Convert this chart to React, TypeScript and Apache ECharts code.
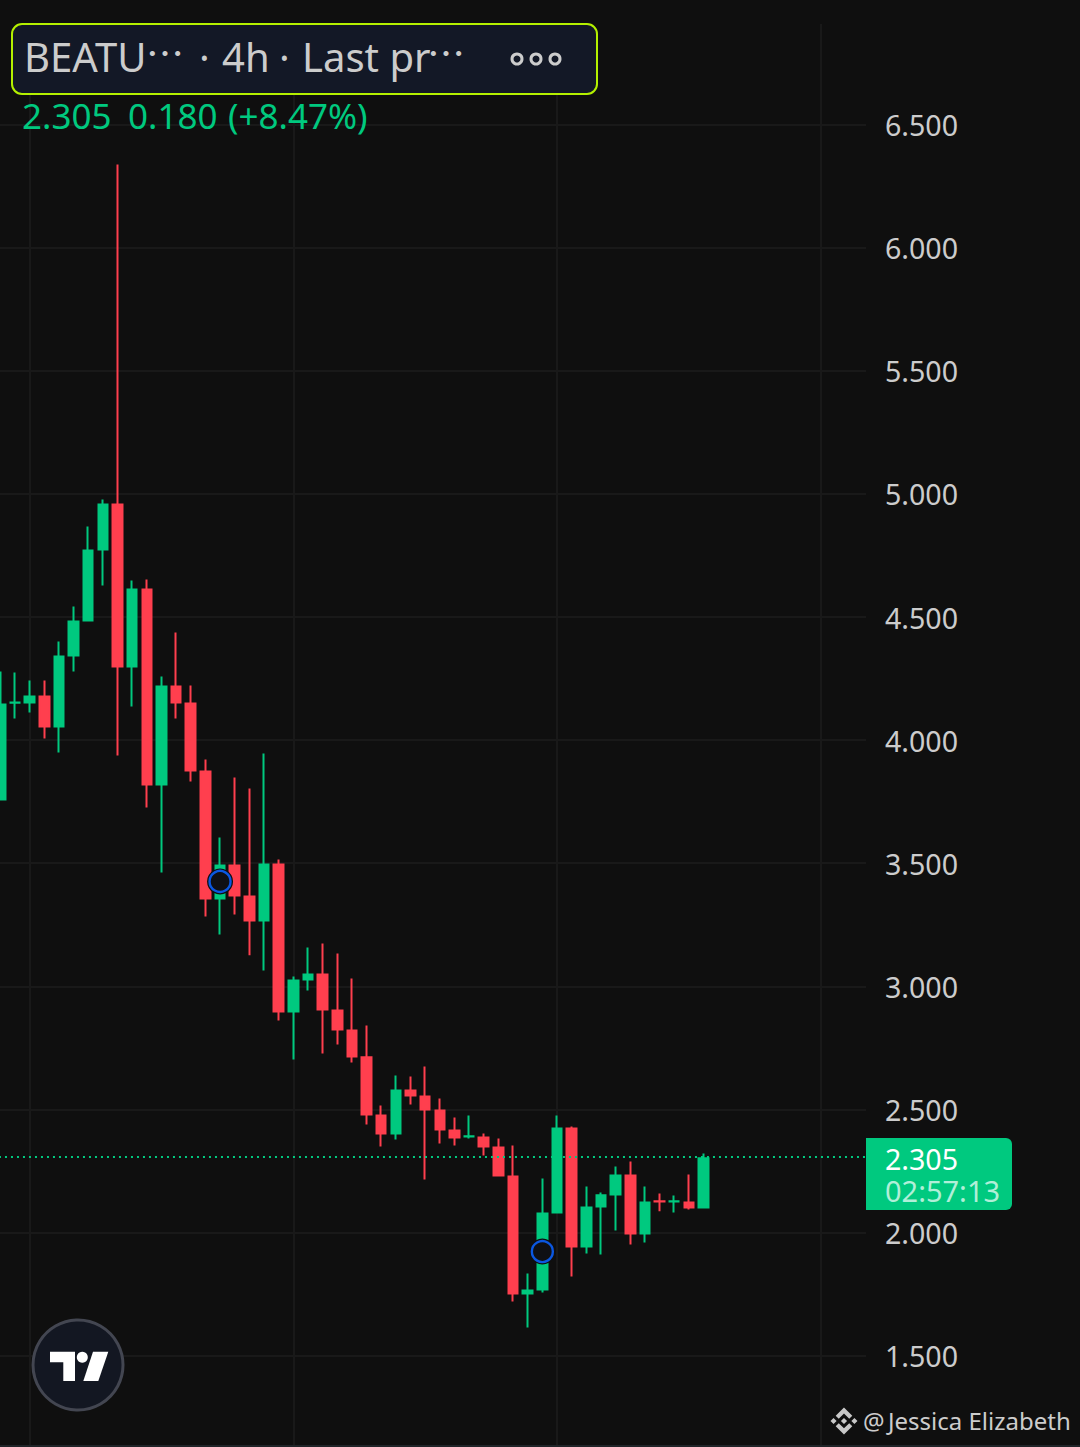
import React, { useEffect, useRef } from "react";
import * as echarts from "echarts";

const opens = [3.761,4.153,4.154,4.179,4.057,4.345,4.487,4.775,4.958,4.3,4.613,3.821,4.219,4.15,3.874,3.359,3.493,3.367,3.269,3.497,2.9,3.03,3.05,2.904,2.823,2.714,2.478,2.405,2.58,2.555,2.498,2.417,2.393,2.389,2.348,2.231,1.756,1.772,2.084,2.425,1.946,2.109,2.157,2.235,1.999,2.13,2.129,2.125,2.105];
const closes = [4.146,4.154,4.179,4.057,4.341,4.483,4.771,4.958,4.3,4.613,3.821,4.219,4.154,3.878,3.359,3.493,3.371,3.269,3.497,2.9,3.026,3.05,2.908,2.827,2.718,2.482,2.405,2.58,2.559,2.502,2.421,2.389,2.394,2.352,2.235,1.756,1.768,2.08,2.425,1.946,2.105,2.154,2.235,1.999,2.125,2.129,2.13,2.105,2.305];
const lows = [3.757,4.089,4.114,4.008,3.951,4.28,4.483,4.629,3.939,4.138,3.728,3.464,4.089,3.834,3.286,3.213,3.294,3.128,3.067,2.864,2.705,2.985,2.73,2.766,2.693,2.442,2.352,2.381,2.523,2.218,2.364,2.356,2.385,2.316,2.231,1.723,1.618,1.76,2.08,1.825,1.918,1.914,2.011,1.955,1.963,2.089,2.084,2.097,2.101];
const highs = [4.28,4.276,4.244,4.244,4.402,4.544,4.869,4.978,6.338,4.649,4.653,4.26,4.438,4.223,3.923,3.606,3.85,3.805,3.947,3.517,3.042,3.16,3.176,3.136,3.034,2.843,2.519,2.64,2.636,2.677,2.547,2.47,2.478,2.405,2.385,2.356,1.837,2.222,2.478,2.433,2.19,2.166,2.271,2.291,2.19,2.162,2.153,2.239,2.324];
const priceTicks = [1.5, 2, 2.5, 3, 3.5, 4, 4.5, 5, 5.5, 6, 6.5];
const gridBarIndexes = [2, 20, 38, 56];
const markerBars = [15, 37];
const markerPrices = [3.428, 1.926];
const lastPrice = 2.305;
const lastPriceText = "2.305";
const countdownText = "02:57:13";
const changeText = "0.180";
const changePercentText = "(+8.47%)";
const totalSlots = 60;

const BG = "#0f0f0f";
const GREEN = "#00c97f";
const RED = "#ff3f4e";
const GRID = "#191919";
const TEXT = "#cccccc";
const FONT = '"Noto Sans", sans-serif';
const BAND = 14.65;
const SHIFT_X = 10;

const BINANCE =
  "M38.73 53.2l24.59-24.58 24.6 24.6 14.3-14.31L63.32 0 24.42 38.9zM0 63.31l14.3-14.31 14.31 14.31-14.31 14.3zM38.73 73.41l24.59 24.59 24.6-24.6 14.31 14.29-38.9 38.91-38.91-38.88-.02-.02zM98 63.31l14.3-14.31 14.31 14.3-14.31 14.32zM77.83 63.3L63.32 48.78 52.59 59.51l-1.24 1.23-2.54 2.54 14.51 14.5 14.51-14.47z";
echarts.graphic.registerShape("binanceLogo", echarts.graphic.extendPath(BINANCE, {}) as any);

const label = (x: number, y: number, text: string, fill: string, size: number, font = FONT, z = 12) => ({
  type: "text",
  x,
  y,
  z,
  style: { text, fill, fontSize: size, fontFamily: font, verticalAlign: "middle", lineHeight: Math.round(size * 1.1) },
});

export default function App() {
  const ref = useRef<HTMLDivElement>(null);
  useEffect(() => {
    const chart = echarts.init(ref.current!, undefined, { renderer: "svg" });
    const candles = opens.map((o, i) => [o, closes[i], lows[i], highs[i]]);
    const slots = Array.from({ length: totalSlots }, (_, i) => String(i));
    const gridTop = 125 - 0.5 * 246.4;
    const gridHeight = 6 * 246.4;
    chart.setOption({
      animation: false,
      backgroundColor: BG,
      grid: [
        { left: SHIFT_X - BAND / 2 + 0.3, top: gridTop - 0.5, width: BAND * totalSlots, height: gridHeight },
        { left: SHIFT_X, top: 124.6 - 0.5 * 246.2, width: 866, height: 6 * 246.2 },
      ],
      xAxis: [
        {
          type: "category",
          gridIndex: 0,
          data: slots,
          axisLine: { show: false },
          axisLabel: { show: false },
          axisTick: { show: false, alignWithLabel: true },
          splitLine: {
            show: true,
            alignWithLabel: true,
            interval: (i: number) => gridBarIndexes.includes(i),
            lineStyle: { color: GRID, width: 2 },
          },
        },
        { type: "value", gridIndex: 1, show: false, min: 0, max: 1 },
      ],
      yAxis: [
        { type: "value", gridIndex: 0, min: 1, max: 7, interval: 0.5, show: false },
        {
          type: "value",
          gridIndex: 1,
          position: "right",
          min: 1,
          max: 7,
          interval: 0.5,
          axisLine: { show: false },
          axisTick: { show: false },
          splitLine: { show: true, lineStyle: { color: GRID, width: 2 } },
          axisLabel: {
            color: TEXT,
            fontSize: 28.6,
            fontFamily: FONT,
            margin: 19,
            align: "left",
            padding: [0, 0, 1, 0],
            formatter: (v: number) => (priceTicks.includes(v) ? v.toFixed(3) : ""),
          },
        },
      ],
      series: [
        {
          type: "candlestick",
          xAxisIndex: 0,
          yAxisIndex: 0,
          data: candles,
          barWidth: 10,
          z: 3,
          itemStyle: { color: GREEN, color0: RED, borderColor: GREEN, borderColor0: RED, borderWidth: 2 },
          markLine: {
            silent: true,
            symbol: "none",
            label: { show: false },
            lineStyle: { color: GREEN, width: 2, type: [2, 4] },
            data: [{ yAxis: lastPrice }],
          },
          markPoint: {
            silent: true,
            label: { show: false },
            symbol: "circle",
            data: markerBars.flatMap((b, i) => [
              { coord: [b, markerPrices[i]], symbolSize: 26, itemStyle: { color: BG, borderWidth: 0 } },
              {
                coord: [b, markerPrices[i]],
                symbolSize: 21,
                itemStyle: { color: "#0f1014", borderColor: "#0b57e0", borderWidth: 2.4 },
              },
            ]),
          },
        },
      ],
      graphic: [
        {
          type: "group",
          x: SHIFT_X,
          y: 0,
          children: [
            { type: "rect", z: 5, shape: { x: -SHIFT_X, y: 0, width: 1100, height: 24 }, style: { fill: BG } },
            { type: "rect", z: 5, shape: { x: -SHIFT_X, y: 1445, width: 1100, height: 60 }, style: { fill: "#202428" } },
            {
              type: "rect",
              z: 10,
              shape: { x: 12, y: 24, width: 585, height: 70, r: 10 },
              style: { fill: "#131826", stroke: "#b4f000", lineWidth: 2 },
            },
            label(24, 56, "BEATU", TEXT, 40),
            label(146, 51, "…", TEXT, 38, '"Noto Sans CJK SC", sans-serif'),
            label(199, 56, "·", TEXT, 40),
            label(222, 56, "4h", TEXT, 40),
            label(279, 56, "·", TEXT, 40),
            label(302, 56, "Last pr", TEXT, 40),
            label(427, 51, "…", TEXT, 38, '"Noto Sans CJK SC", sans-serif'),
            ...[517, 536, 555].map((cx) => ({
              type: "circle",
              z: 12,
              shape: { cx, cy: 59, r: 5 },
              style: { fill: "none", stroke: TEXT, lineWidth: 3 },
            })),
            label(22, 115, lastPriceText, GREEN, 35),
            label(128, 115, changeText, GREEN, 35),
            label(228, 115, changePercentText, GREEN, 35),
            {
              type: "rect",
              z: 10,
              shape: { x: 866, y: 1138, width: 146, height: 72, r: [0, 6, 6, 0] },
              style: { fill: GREEN },
            },
            label(885, 1158, lastPriceText, "#ffffff", 28.6),
            label(885, 1190, countdownText, "#b0efd8", 29),
            {
              type: "circle",
              z: 10,
              shape: { cx: 78, cy: 1365, r: 45 },
              style: { fill: "#131722", stroke: "#434651", lineWidth: 3 },
            },
            {
              type: "polygon",
              z: 12,
              shape: { points: [[50, 1351.7], [75, 1351.7], [75, 1381], [63.3, 1381], [63.3, 1362.3], [50, 1362.3]] },
              style: { fill: "#ffffff" },
            },
            { type: "circle", z: 12, shape: { cx: 82.3, cy: 1357.3, r: 5.5 }, style: { fill: "#ffffff" } },
            {
              type: "polygon",
              z: 12,
              shape: { points: [[93, 1351.7], [108.3, 1351.7], [98.3, 1381], [83.3, 1381]] },
              style: { fill: "#ffffff" },
            },
            {
              type: "binanceLogo",
              z: 12,
              x: 830.5,
              y: 1407.5,
              scaleX: 0.2133,
              scaleY: 0.2133,
              style: { fill: "#c8c8c8" },
            },
            label(863, 1420, "@", TEXT, 24),
            label(888, 1420, "Jessica Elizabeth", TEXT, 24),
          ],
        },
      ],
    });
    return () => chart.dispose();
  }, []);
  return (
    <div style={{ position: "absolute", left: 0, top: 0, width: 1080, height: 1447, overflow: "hidden", background: BG }}>
      <div ref={ref} style={{ position: "absolute", left: -SHIFT_X, top: 0, width: 1090 + SHIFT_X, height: 1500 }} />
    </div>
  );
}
